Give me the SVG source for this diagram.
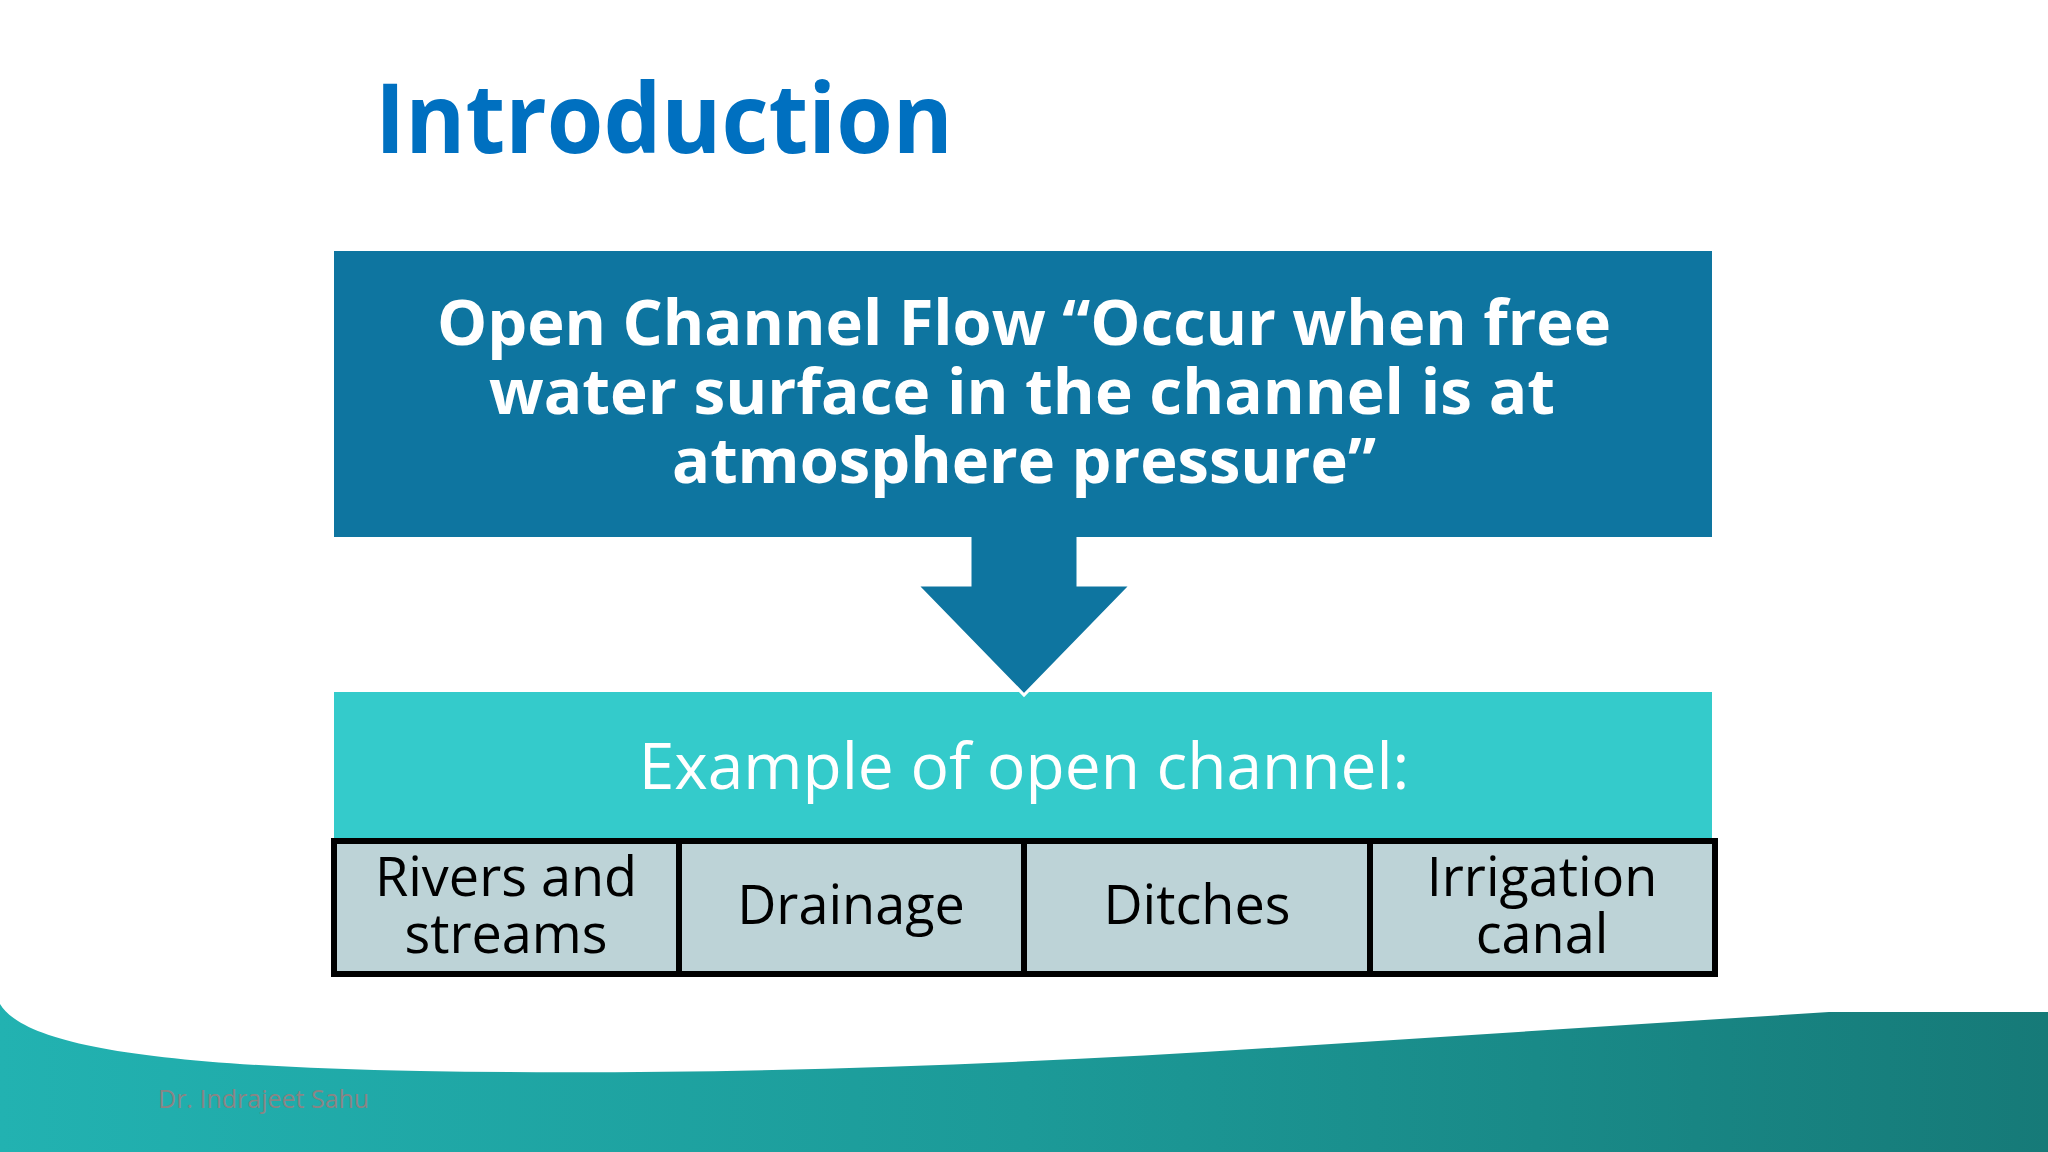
<svg xmlns="http://www.w3.org/2000/svg" width="2048" height="1152" viewBox="0 0 2048 1152">
  <defs>
    <linearGradient id="waveGrad" x1="0" y1="0" x2="1" y2="0">
      <stop offset="0" stop-color="#22B2B1"/>
      <stop offset="0.5" stop-color="#1C9A98"/>
      <stop offset="1" stop-color="#167A78"/>
    </linearGradient>
    <style>
      .title { font-family: "Open Sans", "Noto Sans", sans-serif; font-weight: 700; font-size: 96px; fill: #0070C0; }
      .main { font-family: "Open Sans", "Noto Sans", sans-serif; font-weight: 700; font-size: 63px; fill: #FFFFFF; text-anchor: middle; }
      .sub { font-family: "Open Sans", "Noto Sans", sans-serif; font-size: 64px; fill: #FFFFFF; text-anchor: middle; }
      .cell { fill: #BDD3D7; stroke: #000000; stroke-width: 6; }
      .cellText { font-family: "Open Sans", "Noto Sans", sans-serif; font-size: 54px; fill: #000000; text-anchor: middle; }
      .footer { font-family: "Open Sans", "Noto Sans", sans-serif; font-size: 25px; fill: #8A8484; }
    </style>
  </defs>
  <rect x="0" y="0" width="2048" height="1152" fill="#FFFFFF"/>

  <g id="background-wave">
    <path d="M0,1004 C25,1045 150,1066 420,1071 C700,1076 1000,1066 1300,1046 L1829,1012 L2048,1012 L2048,1152 L0,1152 Z" fill="url(#waveGrad)"/>
    <text class="footer" x="158" y="1108">Dr. Indrajeet Sahu</text>
  </g>

  <g id="title">
    <text class="title" x="375" y="153" textLength="578" lengthAdjust="spacingAndGlyphs">Introduction</text>
  </g>

  <g id="node-examples">
    <rect x="334" y="692" width="1378" height="148" fill="#34CBCB"/>
    <text class="sub" x="1024" y="789">Example of open channel:</text>
  </g>

  <g id="connectors">
    <polygon points="970,530 1078,530 1078,585 1131,585 1024,695 917,585 970,585" fill="#0E75A0" stroke="#FFFFFF" stroke-width="3" stroke-linejoin="miter"/>
  </g>

  <g id="node-definition">
    <rect x="334" y="251" width="1378" height="286" fill="#0E75A0"/>
    <text class="main" x="1024" y="345" textLength="1174" lengthAdjust="spacingAndGlyphs">Open Channel Flow “Occur when free</text>
    <text class="main" x="1022" y="414" textLength="1066" lengthAdjust="spacingAndGlyphs">water surface in the channel is at</text>
    <text class="main" x="1024" y="483" textLength="704" lengthAdjust="spacingAndGlyphs">atmosphere pressure”</text>
  </g>

  <g id="cell-rivers">
    <rect class="cell" x="334" y="841" width="345" height="133"/>
    <text class="cellText" x="506" y="896">Rivers and</text>
    <text class="cellText" x="506" y="953">streams</text>
  </g>
  <g id="cell-drainage">
    <rect class="cell" x="679" y="841" width="345" height="133"/>
    <text class="cellText" x="851" y="924">Drainage</text>
  </g>
  <g id="cell-ditches">
    <rect class="cell" x="1024" y="841" width="346" height="133"/>
    <text class="cellText" x="1197" y="924">Ditches</text>
  </g>
  <g id="cell-irrigation">
    <rect class="cell" x="1370" y="841" width="345" height="133"/>
    <text class="cellText" x="1542" y="896">Irrigation</text>
    <text class="cellText" x="1542" y="953">canal</text>
  </g>
</svg>
